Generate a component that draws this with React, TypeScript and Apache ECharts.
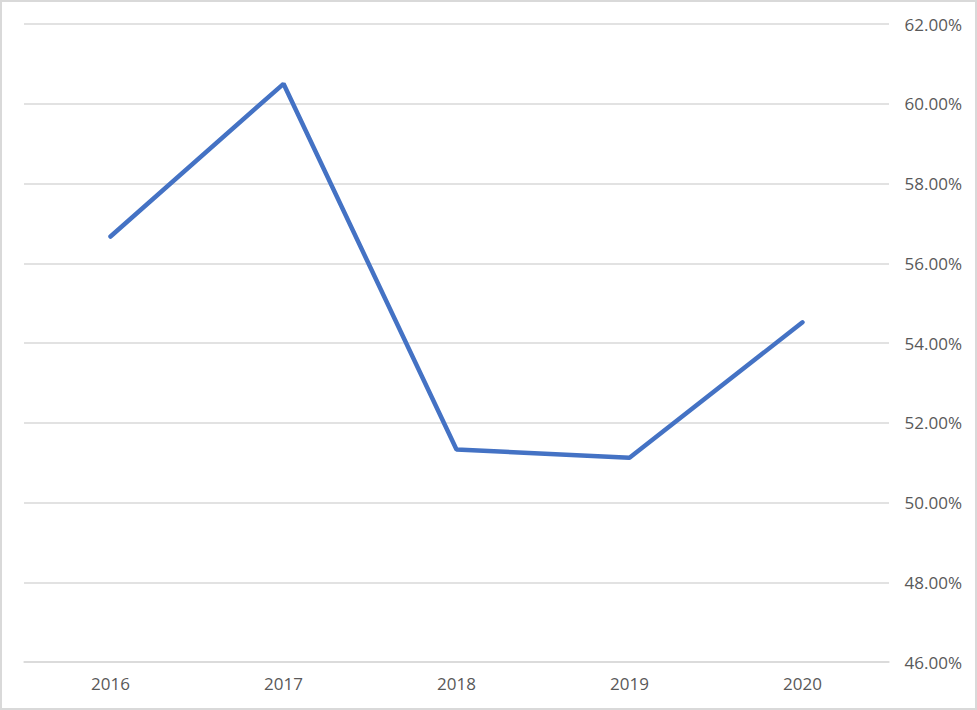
import { useEffect, useRef } from "react";
import * as echarts from "echarts";

const YEARS = ["2016", "2017", "2018", "2019", "2020"];
// percent values
const RATIO = [56.67, 60.5, 51.33, 51.12, 54.52];
const Y_MIN = 46;
const Y_MAX = 62;
const Y_STEP = 2;

export default function App() {
  const chartRef = useRef<HTMLDivElement>(null);

  useEffect(() => {
    if (!chartRef.current) return;
    const chart = echarts.init(chartRef.current, undefined, { renderer: "svg" });

    chart.setOption({
      animation: false,
      backgroundColor: "#ffffff",
      textStyle: { fontFamily: "'Open Sans', sans-serif" },
      graphic: [
        {
          type: "rect",
          shape: { x: 1, y: 1, width: 975, height: 708 },
          style: { fill: "none", stroke: "#d9d9d9", lineWidth: 2 },
          silent: true,
        },
      ],
      grid: { left: 24, right: 88, top: 24, bottom: 48 },
      xAxis: {
        type: "category",
        data: YEARS,
        boundaryGap: true,
        axisLine: { show: true, lineStyle: { color: "#d9d9d9", width: 1.5 } },
        axisTick: { show: false },
        axisLabel: { color: "#595959", fontSize: 17, margin: 13 },
        splitLine: { show: false },
      },
      yAxis: {
        type: "value",
        position: "right",
        min: Y_MIN,
        max: Y_MAX,
        interval: Y_STEP,
        axisLine: { show: false },
        axisTick: { show: false },
        axisLabel: {
          color: "#595959",
          fontSize: 17,
          align: "right",
          margin: 73,
          formatter: (v: number) => `${v.toFixed(2)}%`,
        },
        splitLine: { lineStyle: { color: "#d9d9d9", width: 1.5 } },
      },
      series: [
        {
          type: "line",
          data: RATIO,
          showSymbol: false,
          symbol: "none",
          lineStyle: { color: "#4472c4", width: 4.5, cap: "round" },
        },
      ],
    });

    return () => chart.dispose();
  }, []);

  return (
    <div
      ref={chartRef}
      style={{ position: "absolute", left: 0, top: 0, width: 977, height: 710 }}
    />
  );
}
